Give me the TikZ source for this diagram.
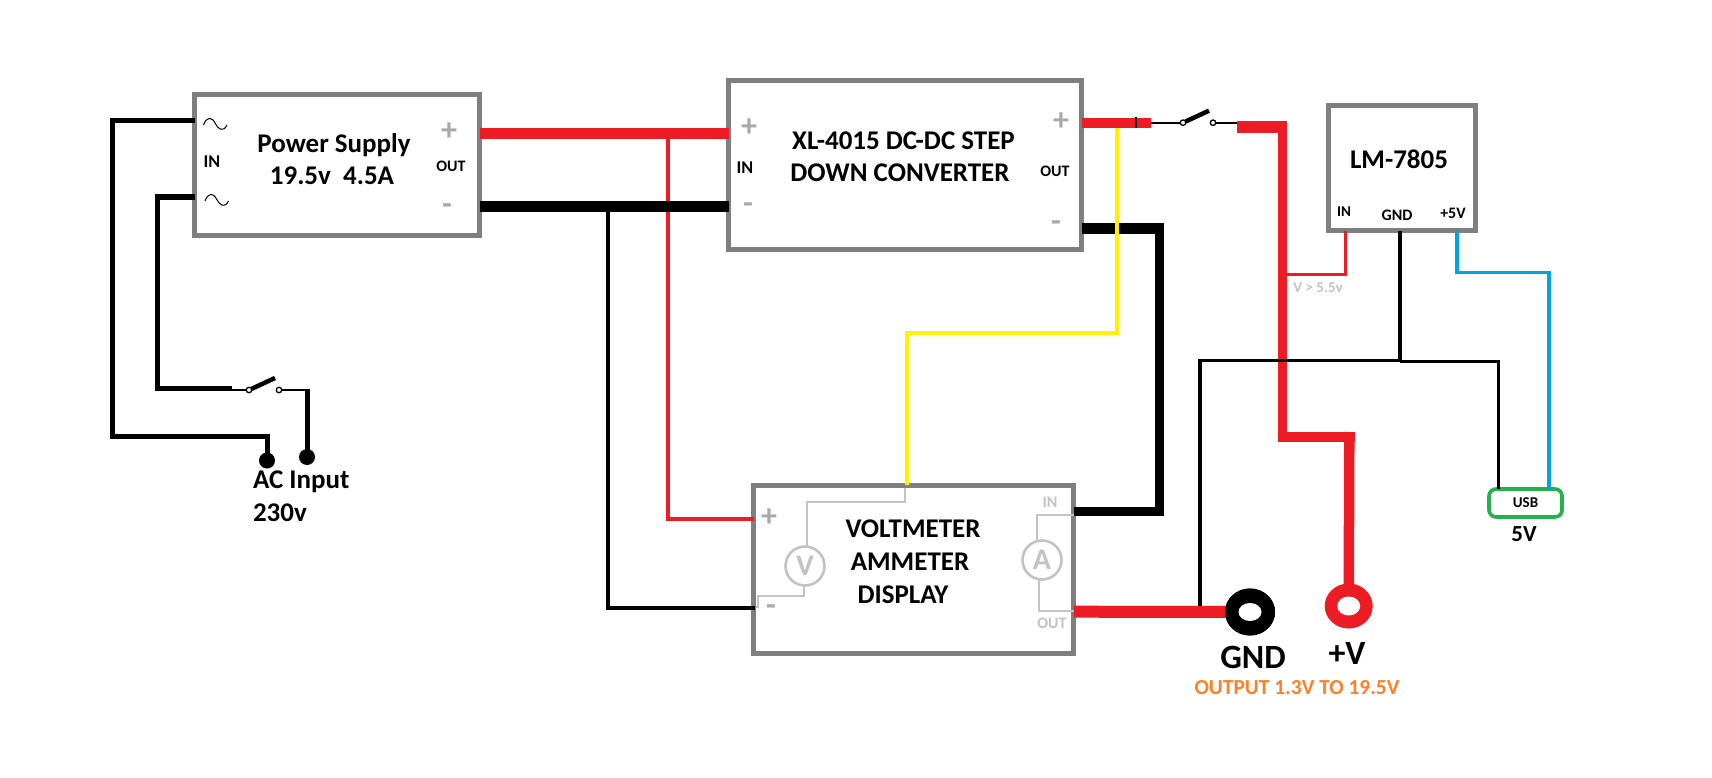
\documentclass[tikz,border=0pt]{standalone}
\usepackage{fontspec}
\setmainfont{Carlito}
\definecolor{boxgray}{HTML}{7F7F7F}
\definecolor{wred}{HTML}{ED1C24}
\definecolor{wyellow}{HTML}{FFF200}
\definecolor{wblue}{HTML}{00A2E8}
\definecolor{wgreen}{HTML}{22B14C}
\definecolor{worange}{HTML}{FF7F27}
\definecolor{ltgray}{HTML}{C3C3C3}
\definecolor{midgray}{HTML}{A9A9A9}
\newcommand{\fs}[1]{\fontsize{#1}{#1}\selectfont\bfseries}
\tikzset{
  box/.style={draw=boxgray,line width=4.5pt,fill=white,inner sep=0pt,outer sep=0pt},
  lbl/.style={inner sep=0pt,outer sep=0pt,font=\fs{27},text=black,align=center},
  small/.style={lbl,font=\fs{16}},
  plusg/.style={lbl,font=\fs{32},text=midgray},
  grayt/.style={lbl,font=\fs{16},text=ltgray},
  wire/.style={line width=#1,line join=miter,line cap=butt},
  wire/.default=4pt,
  contact/.style={circle,draw=black,fill=white,line width=1.3pt,minimum size=5.5pt,inner sep=0pt,outer sep=0pt},
  dot/.style={circle,fill=black,minimum size=16pt,inner sep=0pt,outer sep=0pt},
  meter/.style={circle,draw=ltgray,fill=white,line width=2.6pt,minimum size=39pt,inner sep=0pt,outer sep=0pt,text=ltgray,font=\fs{30}},
  hole/.style={ellipse,fill=white,inner sep=0pt,outer sep=0pt},
}
\usetikzlibrary{shapes.geometric}
\begin{document}
\begin{tikzpicture}[x=1pt,y=-1pt]
\useasboundingbox (0,0) rectangle (1712,778);
\fill[white] (0,0) rectangle (1712,778);
% boxes
\node[box,minimum width=285pt,minimum height=141pt] (ps) at (337,165) {};
\node[box,minimum width=353pt,minimum height=169pt] (xl) at (905,165) {};
\node[box,minimum width=147pt,minimum height=125pt] (lm) at (1402,168) {};
\node[box,minimum width=320pt,minimum height=168pt] (vm) at (913.5,569.5) {};
\node[draw=wgreen,line width=3.6pt,rounded corners=7pt,fill=white,minimum width=73pt,minimum height=28pt,inner sep=0pt,outer sep=0pt] (usb) at (1525.5,503) {};
% helper points
\node[dot] (ac1) at (267,460.5) {};
\node[dot] (ac2) at (307,457) {};
\node[contact] (s1a) at (249,390) {};
\node[contact] (s1b) at (279,390) {};
\node[contact] (s2a) at (1183,122.7) {};
\node[contact] (s2b) at (1213,122.7) {};
\coordinate (s1l) at (275,378);
\coordinate (s2l) at (1209,110.7);
% GND / +V terminals
\node[ellipse,fill=black,minimum width=50pt,minimum height=47pt,inner sep=0pt,outer sep=0pt] (gnd) at (1250,612) {};
\node[ellipse,fill=wred,minimum width=48pt,minimum height=45pt,inner sep=0pt,outer sep=0pt] (vp) at (1348.7,606) {};
% AC wires
\draw[wire=5pt] (ps.west |- 0,121) -| (112,436) -| (ac1.center);
\draw[wire=5pt] (ps.west |- 0,197) -| (157,388) -- (232,388);
\draw[wire=2pt] (232,390) -- (s1a);
\draw[wire=2pt] (s1b) -- (309,390);
\draw[wire=5pt] (307,388.5) -- (ac2.center);
\draw[wire=4.5pt] (s1a) -- (s1l);
% supply to converter
\draw[wire=4pt,wred] (668,133) |- (vm.west |- 0,519);
\draw[wire=4pt] (608,206) |- (755,608);
\draw[wire=11pt,wred] (ps.east |- 0,133.3) -- (xl.west |- 0,133.3);
\draw[wire=11pt] (ps.east |- 0,206.3) -- (xl.west |- 0,206.3);
% converter out negative to meter
\draw[wire=8.7pt] (1159.3,228.7) -- (1159.3,511.7);
\draw[wire=11pt] (xl.east |- 0,228.7) -- (1163.5,228.7);
\draw[wire=9.5pt] (vm.east |- 0,511.7) -- (1163.6,511.7);
% yellow sense
\draw[wire=4pt,wyellow] (1117,118) |- (907,333) -- (907,485);
% converter out positive
\draw[wire=10pt,wred] (xl.east |- 0,122.7) -- (1151,122.7);
\draw[wire=1.5pt] (1136,117) -- (1136,128);
\draw[wire=2pt] (1151,122.7) -- (s2a);
\draw[wire=4.5pt] (s2a) -- (s2l);
\draw[wire=2pt] (s2b) -- (1238,122.7);
\draw[wire=12pt,wred] (1237,126.7) -- (1287,126.7);
\draw[wire=8.7pt,wred] (1282.3,121) -- (1282.3,437);
\draw[wire=10pt,wred] (1278,437) -- (1354.5,437);
\draw[wire=10.5pt,wred] (1349.3,432) -- (vp.center);
\node[hole,minimum width=23pt,minimum height=19pt] (vphole) at (vp.center) {};
% meter out to GND
\draw[wire=12pt,wred] (vm.east |- 0,611.7) -- (gnd.center);
\node[ellipse,fill=black,minimum width=50pt,minimum height=47pt,inner sep=0pt,outer sep=0pt] at (gnd.center) {};
\node[hole,minimum width=23pt,minimum height=18pt] (gndhole) at (gnd.center) {};
% LM wires
\draw[wire=3pt,wred] (lm.south -| 1345,0) |- (1285,274.7);
\draw[wire=3.5pt,wblue] (lm.south -| 1457,0) |- (1549,272.7) -- (usb.north -| 1549,0);
\draw[wire=3.2pt] (1200,606) |- (1400,360.7);
\draw[wire=3.2pt] (lm.south -| 1400,0) -- (1400,362);
\draw[wire=3pt] (1400,361.5) -| (usb.north -| 1498,0);
% meter internals
\node[meter] (vmet) at (805,566) {V};
\node[meter] (amet) at (1042,560) {A};
\draw[wire=2.2pt,ltgray] (vmet.north -| 806.7,0) |- (905,502) -- (905,487.5);
\draw[wire=2.2pt,ltgray] (vmet.south -| 804,0) |- (757.7,595.7) |- (755.5,607);
\draw[wire=2.2pt,ltgray] (amet.north -| 1037,0) |- (vm.east |- 0,515);
\draw[wire=2.2pt,ltgray] (amet.south -| 1039,0) |- (vm.east |- 0,610.7);
% tildes
\draw[line width=1pt] (203.5,125) .. controls (207,116) and (212,117) .. (215,123) .. controls (218,129) and (223,133) .. (227,125);
\draw[line width=1pt] (205,201) .. controls (208.5,192) and (213.5,193) .. (216.5,199) .. controls (219.5,205) and (224.5,209) .. (228.5,201);
% text: power supply
\node[lbl] (pst1) at (334,145) {Power Supply};
\node[lbl] (pst2) at (332,176) {19.5v\ \ 4.5A};
\node[lbl,font=\fs{18}] (psin) at (212,162) {IN};
\node[small] (psout) at (451,166) {OUT};
\node[plusg] (psp) at (449,132) {+};
\node[plusg] (psm) at (447,209) {-};
% text: converter
\node[lbl] (xlt1) at (903.5,141) {XL-4015 DC-DC STEP};
\node[lbl] (xlt2) at (900,173) {DOWN CONVERTER};
\node[lbl,font=\fs{18}] (xlin) at (745,168) {IN};
\node[small] (xlout) at (1055,171) {OUT};
\node[plusg] (xlp1) at (749,128) {+};
\node[plusg] (xlm1) at (748,208) {-};
\node[plusg] (xlp2) at (1061,122) {+};
\node[plusg] (xlm2) at (1056,226) {-};
% text: LM
\node[lbl,font=\fs{27}] (lmt) at (1399,159) {LM-7805};
\node[lbl,font=\fs{15}] (lmin) at (1344,212) {IN};
\node[small] (lmg) at (1397,215) {GND};
\node[small] (lmv) at (1453,213) {+5V};
\node[grayt,font=\fs{15}] (lmgt) at (1318,288) {V > 5.5v};
% text: meter
\node[lbl] (vmt1) at (913,529) {VOLTMETER};
\node[lbl] (vmt2) at (910,562) {AMMETER};
\node[lbl] (vmt3) at (903,595) {DISPLAY};
\node[plusg] (vmp) at (769,518) {+};
\node[plusg] (vmm) at (771,610) {-};
\node[grayt] (vmi) at (1050,502) {IN};
\node[grayt] (vmo) at (1052,623) {OUT};
% text: other
\node[lbl,anchor=west] (ac) at (253,482) {AC Input};
\node[lbl,anchor=west] (acv) at (253,513) {230v};
\node[lbl,font=\fs{15}] (usbt) at (usb.center) {USB};
\node[lbl,font=\fs{23}] (fivev) at (1524,534) {5V};
\node[lbl,font=\fs{34}] (gndt) at (1253,657) {GND};
\node[lbl,font=\fs{34}] (vt) at (1347,653) {+V};
\node[lbl,font=\fs{21.4},text=worange] (outt) at (1297,688) {OUTPUT 1.3V TO 19.5V};
\end{tikzpicture}
\end{document}
